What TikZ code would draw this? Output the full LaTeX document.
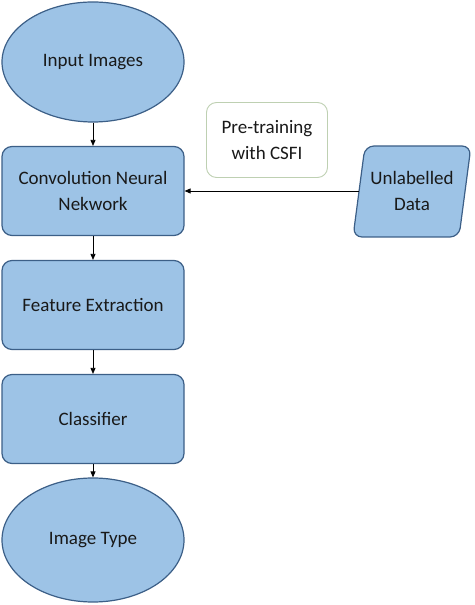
\documentclass[tikz,border=0pt]{standalone}
\usepackage{fontspec}
\setmainfont{Carlito}
\usetikzlibrary{shapes.geometric,arrows.meta}
\definecolor{boxfill}{RGB}{157,195,230}
\definecolor{boxdraw}{RGB}{60,95,135}
\definecolor{pretrain}{RGB}{190,208,178}
\tikzset{
  x=1pt,y=1pt,
  txt/.style={font=\fontsize{19}{26}\selectfont,text=black!90,align=center},
  base/.style={fill=boxfill,draw=boxdraw,line width=1.2pt,txt},
  oval/.style={base,ellipse,minimum width=182,minimum height=120,inner sep=0},
  procbox/.style={base,rectangle,rounded corners=10,minimum width=182,minimum height=89,inner sep=0},
  notebox/.style={rectangle,rounded corners=10,draw=pretrain,line width=0.9pt,fill=white,minimum width=121,minimum height=75,txt},
  conn/.style={draw=black,line width=0.8pt,-{Triangle[length=6pt,width=5pt]}}
}
\begin{document}
\begin{tikzpicture}
\useasboundingbox (0,0) rectangle (474,605);
\node[oval] (in) at (93,543) {Input Images};
\node[procbox] (cnn) at (93,414) {Convolution Neural\\Nekwork};
\node[procbox] (fe) at (93,300) {Feature Extraction};
\node[procbox] (cl) at (93,186) {Classifier};
\node[oval,minimum height=124] (it) at (93,65) {Image Type};
\node[notebox] (pt) at (267,465) {Pre-training\\with CSFI};
\path[base,rounded corners=9] (365,459) -- (471,459) -- (459,368) -- (353,368) -- cycle;
\node[rectangle,inner sep=0,minimum width=106,minimum height=91,txt] (ud) at (412,414) {Unlabelled\\Data};
\draw[conn] (in) -- (cnn);
\draw[conn] (cnn) -- (fe);
\draw[conn] (fe) -- (cl);
\draw[conn] (cl) -- (it);
\draw[conn] (ud.west) -- (cnn.east);
\end{tikzpicture}
\end{document}
